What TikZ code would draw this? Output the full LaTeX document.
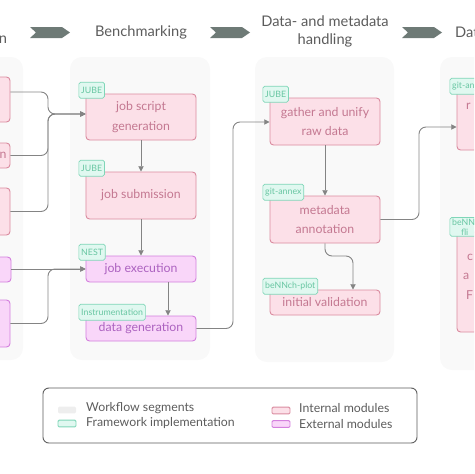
\documentclass[tikz,border=0pt]{standalone}
\usepackage{fontspec}
\setmainfont{Lato}
\usetikzlibrary{arrows.meta}

\definecolor{segbg}{RGB}{249,249,249}
\definecolor{segswatch}{RGB}{238,238,238}
\definecolor{intfill}{RGB}{252,224,232}
\definecolor{intdraw}{RGB}{218,140,160}
\definecolor{inttext}{RGB}{196,120,145}
\definecolor{extfill}{RGB}{249,214,249}
\definecolor{extdraw}{RGB}{212,128,222}
\definecolor{exttext}{RGB}{172,98,192}
\definecolor{tagfill}{RGB}{224,248,240}
\definecolor{tagdraw}{RGB}{128,214,184}
\definecolor{tagtext}{RGB}{104,198,162}
\definecolor{headtext}{RGB}{92,92,92}
\definecolor{linecol}{RGB}{132,132,132}
\definecolor{chevcol}{RGB}{110,122,118}

\begin{document}
\begin{tikzpicture}[
    x=0.03cm, y=-0.03cm,
    segment/.style={fill=segbg, rounded corners=10},
    intmod/.style={rectangle, rounded corners=3, draw=intdraw, fill=intfill, text=inttext, line width=0.8pt,
        font=\fontsize{10.5}{17}\selectfont, align=center, minimum width=3.3cm, inner sep=0pt},
    extmod/.style={intmod, draw=extdraw, fill=extfill, text=exttext},
    tag/.style={rectangle, rounded corners=1.5, draw=tagdraw, fill=tagfill, text=tagtext, line width=0.6pt,
        font=\fontsize{7.5}{8.5}\selectfont, align=center, minimum height=0.48cm, inner xsep=2pt, inner ysep=1pt, anchor=south west},
    head/.style={text=headtext, font=\fontsize{12.5}{15}\selectfont, align=center},
    arr/.style={-{Triangle[length=4.5pt,width=4.5pt]}, draw=linecol, line width=0.8pt, rounded corners=6},
    swatch/.style={rectangle, rounded corners=1, line width=0.8pt, minimum width=0.54cm, minimum height=0.2cm, inner sep=0pt},
    legtext/.style={anchor=west, text=headtext, font=\fontsize{10.5}{12}\selectfont, inner sep=0pt}
]
    \useasboundingbox (0,0) rectangle (474,474);
    \clip (0,0) rectangle (474,474);

    % Segments
    \fill[segment] (-20,57) rectangle (23,360);
    \fill[segment] (70,57) rectangle (210,360);
    \fill[segment] (255,57) rectangle (394,362);
    \fill[segment] (440,57) rectangle (560,370);

    % Headers
    \node[head] (hconf) at (3,40) {n};
    \node[head] (hbench) at (141,32) {Benchmarking};
    \node[head] (hdata) at (325,31.5) {Data- and metadata\\handling};
    \node[head, anchor=west, inner sep=0pt] (hpres) at (455,32) {Dat};
    \foreach \cx in {30,210,402}
        \fill[chevcol] (\cx,27) -- ++(32,0) -- ++(8,5.5) -- ++(-8,5.5) -- ++(-32,0) -- ++(6,-5.5) -- cycle;

    % Configuration
    \node[intmod, minimum height=1.35cm] (L1) at (-45,99.5) {};
    \node[intmod, minimum height=0.75cm] (L2) at (-45,155.5) {};
    \node[text=inttext, font=\fontsize{10.5}{12}\selectfont] (L2txt) at (3,155) {n};
    \node[intmod, minimum height=1.41cm] (L3) at (-45,211.5) {};
    \node[extmod, minimum height=0.75cm] (L4) at (-44,269.5) {};
    \node[extmod, minimum height=1.41cm] (L5) at (-45,323.5) {};

    % Benchmarking
    \node[intmod, minimum height=1.38cm] (gen) at (141,117) {job script\\generation};
    \node[intmod, minimum height=1.41cm] (sub) at (141,195.5) {job submission};
    \node[extmod, minimum height=0.78cm] (exe) at (141,269) {job execution};
    \node[extmod, minimum height=0.75cm] (dgen) at (141,328.5) {data generation};

    \node[tag] (tgen) at ([shift={(-7,5)}]gen.north west) {JUBE};
    \node[tag] (tsub) at ([shift={(-7,5)}]sub.north west) {JUBE};
    \node[tag] (texe) at ([shift={(-7,5)}]exe.north west) {NEST};
    \node[tag] (tdgen) at ([shift={(-7,5)}]dgen.north west) {Instrumentation};

    % Data- and metadata handling
    \node[intmod, minimum height=1.41cm] (gather) at (325,121.5) {gather and unify\\raw data};
    \node[intmod, minimum height=1.41cm] (meta) at (325,219.5) {metadata\\annotation};
    \node[intmod, minimum height=0.75cm] (valid) at (325,302.5) {initial validation};

    \node[tag] (tgather) at ([shift={(-7,5)}]gather.north west) {JUBE};
    \node[tag] (tmeta) at ([shift={(-7,5)}]meta.north west) {git-annex};
    \node[tag] (tvalid) at ([shift={(-7,5)}]valid.north west) {beNNch-plot};

    % Data presentation
    \node[intmod, minimum height=1.8cm] (r1) at (512,120) {};
    \node[text=inttext, font=\fontsize{10.5}{12}\selectfont, anchor=west, inner sep=0pt] (r1txt) at (466,106) {r};
    \node[intmod, minimum height=3.0cm] (r2) at (512,282) {};
    \node[text=inttext, font=\fontsize{10.5}{12}\selectfont, anchor=west, inner sep=0pt] (r2a) at (467,257) {c};
    \node[text=inttext, font=\fontsize{10.5}{12}\selectfont, anchor=west, inner sep=0pt] (r2b) at (463,276) {a};
    \node[text=inttext, font=\fontsize{10.5}{12}\selectfont, anchor=west, inner sep=0pt] (r2c) at (466,295) {F};

    \node[tag] (tr1) at ([shift={(-7,5)}]r1.north west) {git-an};
    \node[tag, align=left] (tr2) at ([shift={(-7,5)}]r2.north west) {beNN\\\quad fli};

    % Arrows
    \draw[arr] (L1.east |- 0,92) -| (48,114) -- (gen.west |- 0,114);
    \draw[arr] (L2.east) -| (48,114) -- (gen.west |- 0,114);
    \draw[arr] (L3.east) -| (48,114) -- (gen.west |- 0,114);
    \draw[arr] (L4.east |- 0,269) -- (exe.west |- 0,269);
    \draw[arr] (L5.east) -| (48,269) -- (exe.west |- 0,269);

    \draw[arr] (gen) -- (sub);
    \draw[arr] (sub) -- (exe);
    \draw[arr] (exe.south -| 168,0) -- (dgen.north -| 168,0);
    \draw[arr] (dgen.east) -| (233,122) -- (gather.west |- 0,122);

    \draw[arr] (gather) -- (meta);
    \draw[arr] (meta.south) |- (353,256) -- (valid.north -| 353,0);
    \draw[arr] (meta.east) -| (419,127) -- (r1.west |- 0,127);

    % Legend
    \node[draw=headtext, rounded corners=5, line width=0.8pt, minimum width=11.22cm, minimum height=1.65cm] (legend) at (230,415.5) {};
    \node[swatch, fill=segswatch] (sw1) at (67,410) {};
    \node[legtext] (lt1) at (86,408) {Workflow segments};
    \node[swatch, fill=tagfill, draw=tagdraw] (sw2) at (67,423.5) {};
    \node[legtext] (lt2) at (86,423.5) {Framework implementation};
    \node[swatch, fill=intfill, draw=intdraw] (sw3) at (281,410.5) {};
    \node[legtext] (lt3) at (299,408.5) {Internal modules};
    \node[swatch, fill=extfill, draw=extdraw] (sw4) at (281,424) {};
    \node[legtext] (lt4) at (299,424) {External modules};
\end{tikzpicture}
\end{document}
